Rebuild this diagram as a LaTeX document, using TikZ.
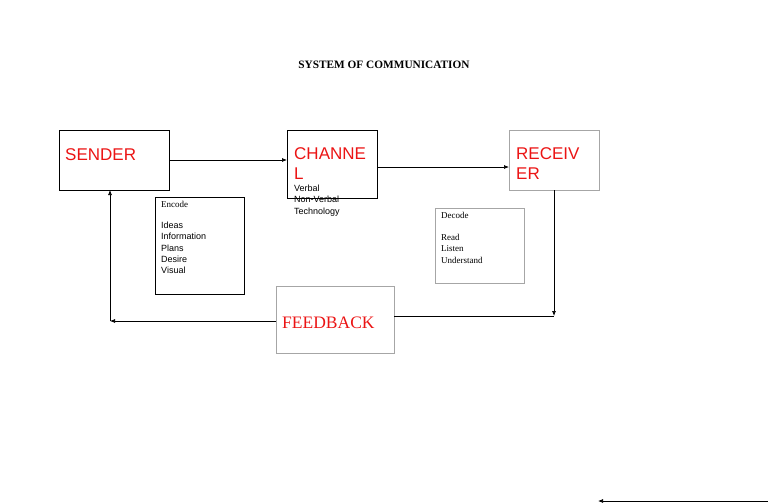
\documentclass[tikz,border=0pt]{standalone}
\usepackage{fontspec}
\setmainfont{Liberation Serif}
\newfontfamily\arialf{Liberation Sans}
\usetikzlibrary{arrows.meta}
\definecolor{boxred}{RGB}{235,20,20}
\tikzset{
  box/.style={draw=black, line width=0.8pt},
  gbox/.style={draw=gray!70, line width=0.8pt},
  big/.style={text=boxred, font=\arialf\fontsize{17}{20}\selectfont, anchor=west, align=left, inner sep=0pt},
  small/.style={font=\arialf\fontsize{9}{11.2}\selectfont, anchor=north west, align=left, inner sep=0pt},
  smalls/.style={font=\fontsize{9}{11.2}\selectfont, anchor=north west, align=left, inner sep=0pt},
  arr/.style={-{Latex[length=5pt,width=4pt]}, line width=0.7pt}
}
\begin{document}
\begin{tikzpicture}[x=1pt,y=-1pt]
\useasboundingbox (0,0) rectangle (768,503);
\node[font=\bfseries\fontsize{11.3}{13}\selectfont] (title) at (384,65) {SYSTEM OF COMMUNICATION};
\draw[box] (59,130) rectangle (169,190);
\node[big] (sender) at (65,155) {SENDER};
\draw[box] (287,130) rectangle (377,198);
\node[big, anchor=north west] (channel) at (294,147) {CHANNE\\L};
\node[small] (ctext) at (294,185) {Verbal\\Non-Verbal\\Technology};
\draw[gbox] (509,130) rectangle (599,190);
\node[big, anchor=north west] (receiver) at (516,147) {RECEIV\\ER};
\draw[box] (155,197) rectangle (244,294);
\node[smalls] (encode) at (161,201) {Encode};
\node[small] (etext) at (161,222) {Ideas\\Information\\Plans\\Desire\\Visual};
\draw[gbox] (435,208) rectangle (524,283);
\node[smalls] (decode) at (441,212) {Decode\\[11pt]Read\\Listen\\Understand};
\draw[gbox] (276,286) rectangle (394,353);
\node[text=boxred, font=\fontsize{17.5}{20}\selectfont, anchor=west, inner sep=0pt] (feedback) at (282,323) {FEEDBACK};
\coordinate (s1) at (169,160); \coordinate (c1) at (287,160);
\coordinate (c2) at (377,167); \coordinate (r1) at (509,167);
\coordinate (r2) at (554,190); \coordinate (r3) at (554,316);
\coordinate (f1) at (394,316);
\coordinate (f2) at (276,321); \coordinate (f3) at (110,321);
\coordinate (s2) at (110,190);
\coordinate (b1) at (768,501); \coordinate (b2) at (598,501);
\draw[arr] (s1) -- (c1);
\draw[arr] (c2) -- (r1);
\draw[arr] (r2) -- (r3);
\draw[line width=0.7pt] (f1) -- (r3);
\draw[arr] (f2) -- (f3);
\draw[arr] (f3) -- (s2);
\draw[arr] (b1) -- (b2);
\end{tikzpicture}
\end{document}
